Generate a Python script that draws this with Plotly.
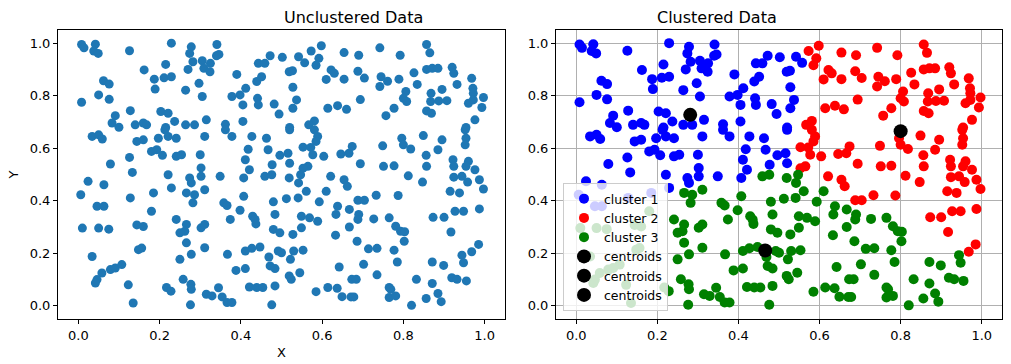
import plotly.graph_objects as go

# ---- data ----
c1_x = [0.008,0.014,0.042,0.038,0.049,0.126,0.229,0.278,0.274,0.282,0.305,0.309,0.27,0.162,0.215,0.187,0.211,0.229,0.189,0.062,
        0.076,0.05,0.076,0.008,0.297,0.264,0.305,0.128,0.091,0.083,0.10,0.14,0.16,0.168,0.203,0.221,0.237,0.264,0.286,0.315,0.215,
        0.034,0.05,0.059,0.144,0.16,0.213,0.221,0.241,0.197,0.311,0.18,0.193,0.207,0.241,0.254,0.30,0.126,0.079,0.133,0.221,
        0.274,0.278,0.302,0.302,0.024,0.063,0.229,0.185,0.128,0.006,0.046,0.063,
        0.341,0.346,0.34,0.325,0.324,0.39,0.443,0.459,0.472,0.502,0.542,0.557,0.439,0.451,0.519,0.527,0.528,0.412,0.378,0.398,
        0.405,0.441,0.443,0.482,0.494,0.537,0.528,0.362,0.405,0.52,
        0.362,0.378,0.427,0.463,0.52,0.418,0.411,0.467,0.496,0.516,0.52,0.477,0.421,0.407,0.349]
c1_y = [0.995,0.982,0.996,0.97,0.961,0.971,1.0,0.986,0.961,0.929,0.933,0.904,0.9,0.898,0.919,0.863,0.868,0.872,0.825,0.857,
        0.844,0.803,0.786,0.775,0.847,0.821,0.797,0.743,0.724,0.696,0.68,0.689,0.696,0.689,0.74,0.733,0.702,0.689,0.689,0.708,0.679,
        0.645,0.651,0.635,0.626,0.632,0.67,0.645,0.638,0.638,0.645,0.588,0.594,0.573,0.569,0.575,0.575,0.565,0.54,0.508,0.499,
        0.487,0.468,0.525,0.493,0.474,0.461,0.449,0.43,0.411,0.423,0.379,0.379,
        0.995,0.957,0.952,0.923,0.891,0.881,0.923,0.923,0.952,0.946,0.948,0.925,0.854,0.872,0.891,0.895,0.832,0.828,0.797,0.803,
        0.765,0.79,0.765,0.768,0.73,0.784,0.752,0.691,0.702,0.679,
        0.67,0.645,0.645,0.638,0.67,0.596,0.556,0.594,0.573,0.581,0.543,0.537,0.518,0.487,0.493]

c2_x = [0.573,0.598,0.654,0.592,0.585,0.622,0.63,0.61,0.654,0.614,0.638,0.66,0.581,0.567,
        0.69,0.742,0.792,0.857,0.865,0.688,0.704,0.745,0.761,0.742,0.789,0.826,0.834,0.857,0.871,0.885,0.92,0.924,0.932,0.895,
        0.868,0.968,0.971,0.972,0.997,0.96,0.972,0.993,0.694,0.806,0.80,0.808,0.867,0.887,0.907,0.857,0.869,0.777,0.757,0.976,0.954,
        0.581,0.589,0.585,0.553,0.572,0.577,0.604,0.565,0.553,0.621,0.646,0.666,0.674,0.654,0.662,
        0.796,0.80,0.818,0.849,0.895,0.885,0.952,0.954,0.952,0.749,0.694,0.751,0.777,0.856,0.857,0.922,0.924,0.96,0.954,0.976,
        0.812,0.847,0.924,0.944,0.958,0.987,0.997,0.915,0.938,0.733,0.787,0.688,0.704,0.873,0.9,0.927,0.948,0.987,
        0.917,0.985,0.968]
c2_y = [0.97,0.99,0.964,0.942,0.916,0.898,0.885,0.862,0.863,0.752,0.762,0.748,0.704,0.689,
        0.954,0.982,0.954,0.995,0.963,0.893,0.867,0.872,0.855,0.835,0.863,0.887,0.843,0.9,0.904,0.904,0.908,0.885,0.843,0.824,
        0.809,0.866,0.828,0.809,0.793,0.771,0.784,0.755,0.785,0.816,0.79,0.778,0.778,0.78,0.781,0.742,0.733,0.752,0.724,0.708,0.679,
        0.67,0.645,0.626,0.604,0.603,0.575,0.569,0.531,0.524,0.493,0.578,0.581,0.607,0.48,0.455,
        0.638,0.613,0.597,0.648,0.632,0.594,0.67,0.638,0.613,0.609,0.541,0.531,0.533,0.573,0.531,0.556,0.531,0.55,0.531,0.518,
        0.495,0.471,0.49,0.493,0.471,0.48,0.445,0.436,0.43,0.421,0.42,0.402,0.402,0.337,0.337,0.36,0.36,0.369,
        0.281,0.234,0.206]

c3_x = [0.266,0.286,0.311,0.282,0.18,
        0.459,0.476,0.519,0.547,0.542,0.561,0.61,0.407,0.358,0.366,0.398,0.429,0.435,0.48,0.512,0.541,0.593,0.484,0.374,0.549,
        0.569,0.589,0.638,0.634,0.667,
        0.69,0.688,0.727,0.765,
        0.241,0.266,0.262,0.25,0.266,0.302,0.311,0.311,0.25,0.278,0.258,0.277,0.278,0.276,0.315,
        0.01,0.05,0.075,0.144,0.16,0.156,0.148,0.034,0.058,0.079,0.091,0.107,0.046,0.042,0.217,0.228,0.123,0.135,
        0.437,0.48,0.496,0.528,0.549,0.633,0.667,0.411,0.427,0.447,0.367,0.492,0.5,0.469,0.53,0.553,0.522,0.472,0.484,0.411,
        0.388,0.519,0.524,0.545,0.642,0.673,0.421,0.439,0.454,0.484,0.345,0.329,0.354,0.366,0.378,0.476,0.585,0.614,0.637,0.649,0.671,
        0.781,0.793,0.803,0.802,0.686,0.714,0.735,0.777,0.785,0.702,0.735,0.684,0.678,0.765,0.769,0.765,0.781,0.82,0.856,0.832,
        0.871,0.885,0.893,0.871,0.899,0.944,0.948,0.919,0.932,0.955]
c3_y = [0.43,0.423,0.442,0.392,0.36,
        0.493,0.499,0.487,0.499,0.468,0.436,0.436,0.417,0.392,0.382,0.364,0.341,0.329,0.396,0.408,0.411,0.396,0.348,0.329,0.341,
        0.335,0.322,0.379,0.348,0.367,
        0.348,0.329,0.331,0.335,
        0.329,0.31,0.284,0.278,0.24,0.297,0.31,0.221,0.177,0.196,0.101,0.082,0.063,0.004,0.044,
        0.296,0.296,0.292,0.308,0.302,0.22,0.214,0.188,0.125,0.138,0.144,0.157,0.10,0.087,0.07,0.056,0.08,0.011,
        0.312,0.291,0.278,0.272,0.297,0.269,0.30,0.209,0.219,0.224,0.196,0.209,0.202,0.186,0.209,0.212,0.177,0.152,0.142,0.142,
        0.135,0.114,0.101,0.126,0.148,0.101,0.072,0.07,0.07,0.076,0.069,0.038,0.034,0.013,0.013,0.004,0.054,0.07,0.067,0.035,0.034,
        0.303,0.284,0.282,0.246,0.246,0.217,0.219,0.212,0.167,0.158,0.118,0.101,0.034,0.07,0.063,0.032,0.038,0.002,0.028,0.101,
        0.085,0.047,0.016,0.167,0.154,0.193,0.164,0.107,0.101,0.095]

centroid_x = [0.281, 0.800, 0.466]
centroid_y = [0.727, 0.665, 0.211]

all_x = c1_x + c2_x + c3_x
all_y = c1_y + c2_y + c3_y

tickvals = [0.0, 0.2, 0.4, 0.6, 0.8, 1.0]
ticktext = ["0.0", "0.2", "0.4", "0.6", "0.8", "1.0"]

W, H = 1011, 364
FONT = "DejaVu Sans"

fig = go.Figure()

fig.add_trace(go.Scatter(x=all_x, y=all_y, mode="markers", xaxis="x", yaxis="y",
                         marker=dict(color="#1f77b4", size=9, line=dict(width=0)),
                         showlegend=False))

for xs, ys, col, nm in [(c1_x, c1_y, "blue", "cluster 1"),
                        (c2_x, c2_y, "red", "cluster 2"),
                        (c3_x, c3_y, "green", "cluster 3")]:
    fig.add_trace(go.Scatter(x=xs, y=ys, mode="markers", xaxis="x2", yaxis="y2", name=nm,
                             marker=dict(color=col, size=10, line=dict(width=0))))
for i in range(3):
    fig.add_trace(go.Scatter(x=[centroid_x[i]], y=[centroid_y[i]], mode="markers", xaxis="x2", yaxis="y2",
                             name="centroids", marker=dict(color="black", size=14, line=dict(width=0))))

def px(v):
    return v / W

def py(v):
    return 1 - v / H

ax_common = dict(range=[-0.05, 1.05], tickvals=tickvals, ticktext=ticktext, ticks="outside", ticklen=4,
                 tickcolor="black", tickwidth=1, showline=True, linecolor="black", linewidth=1, mirror=True,
                 zeroline=False, automargin=False, tickfont=dict(family=FONT, size=13, color="black"))

fig.update_layout(
    width=W, height=H,
    margin=dict(l=0, r=0, t=0, b=0),
    paper_bgcolor="white", plot_bgcolor="white",
    font=dict(family=FONT, color="black"),
    xaxis=dict(domain=[px(58), px(505)], anchor="y", showgrid=False,
               title=dict(text="X", font=dict(family=FONT, size=13), standoff=6), **ax_common),
    yaxis=dict(domain=[py(319), py(30)], anchor="x", showgrid=False,
               title=dict(text="Y", font=dict(family=FONT, size=13), standoff=8), **ax_common),
    xaxis2=dict(domain=[px(556), px(1002)], anchor="y2", showgrid=True, gridcolor="#b0b0b0", gridwidth=1, **ax_common),
    yaxis2=dict(domain=[py(319), py(30)], anchor="x2", showgrid=True, gridcolor="#b0b0b0", gridwidth=1, **ax_common),
    legend=dict(x=px(563), y=py(311), xanchor="left", yanchor="bottom",
                bgcolor="rgba(255,255,255,0.8)", bordercolor="#cccccc", borderwidth=1,
                font=dict(family=FONT, size=12.5, color="black"), tracegroupgap=0, itemsizing="trace"),
    annotations=[
        dict(text="Unclustered Data", x=(px(58) + px(505)) / 2, y=py(17), xref="paper", yref="paper",
             showarrow=False, font=dict(family=FONT, size=16, color="black"), yanchor="middle"),
        dict(text="Clustered Data", x=(px(556) + px(1002)) / 2, y=py(17), xref="paper", yref="paper",
             showarrow=False, font=dict(family=FONT, size=16, color="black"), yanchor="middle"),
    ],
)

fig.write_html("out.html", config={"displayModeBar": False},
               post_script="document.body.style.margin='0';document.body.style.overflow='hidden';")
